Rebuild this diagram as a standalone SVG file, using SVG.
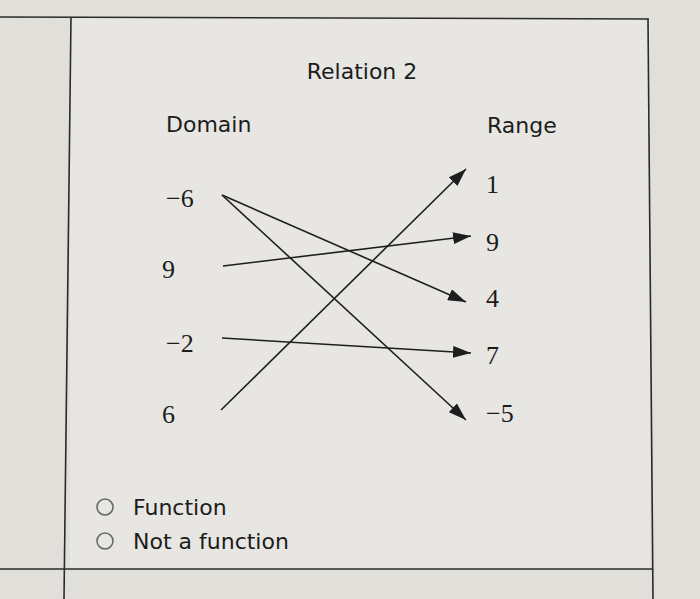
<svg xmlns="http://www.w3.org/2000/svg" width="700" height="599" viewBox="0 0 700 599">
<defs>
<marker id="ah" viewBox="0 0 18 12" refX="18" refY="6" markerWidth="18" markerHeight="12" markerUnits="userSpaceOnUse" orient="auto">
<path d="M0,0 L18,6 L0,12 Z" fill="#1e1e1e"/>
</marker>
</defs>
<style>
.frame{stroke:#2a2a2a;stroke-width:1.6;fill:none}
.sans{font-family:"DejaVu Sans","Noto Sans",sans-serif;font-size:22px;fill:#1c1c1c}
.num{font-family:"Liberation Serif","Times New Roman",serif;font-size:26px;fill:#1c1c1c}
.conn line{stroke:#1e1e1e;stroke-width:1.6;marker-end:url(#ah)}
.radio{fill:none;stroke:#6a6a6a;stroke-width:1.6}
</style>
<rect x="0" y="0" width="700" height="599" fill="#e0dfda"/>
<rect x="70" y="18" width="580" height="551" fill="#e7e6e2"/>
<g id="frame">
<line class="frame" x1="0" y1="17" x2="649" y2="19"/>
<line class="frame" x1="71" y1="17" x2="64" y2="599"/>
<line class="frame" x1="648" y1="19" x2="653" y2="599"/>
<line class="frame" x1="0" y1="569" x2="653" y2="569"/>
</g>
<g id="title"><text class="sans" x="362" y="79" text-anchor="middle">Relation 2</text></g>
<g id="domain-label"><text class="sans" x="166" y="132">Domain</text></g>
<g id="range-label"><text class="sans" x="487" y="133">Range</text></g>
<g id="d-neg6"><text class="num" x="166" y="207">−6</text></g>
<g id="d-9"><text class="num" x="162" y="278">9</text></g>
<g id="d-neg2"><text class="num" x="166" y="352">−2</text></g>
<g id="d-6"><text class="num" x="162" y="423">6</text></g>
<g id="r-1"><text class="num" x="486" y="193">1</text></g>
<g id="r-9"><text class="num" x="486" y="251">9</text></g>
<g id="r-4"><text class="num" x="486" y="307">4</text></g>
<g id="r-7"><text class="num" x="486" y="364">7</text></g>
<g id="r-neg5"><text class="num" x="486" y="422">−5</text></g>
<g id="connectors" class="conn">
<line x1="222" y1="195" x2="466" y2="302"/>
<line x1="222" y1="195" x2="466" y2="420"/>
<line x1="223" y1="266" x2="471" y2="236"/>
<line x1="222" y1="338" x2="471" y2="353"/>
<line x1="221" y1="410" x2="466" y2="169"/>
</g>
<g id="opt-function">
<circle class="radio" cx="105" cy="507" r="8"/>
<text class="sans" x="133" y="515">Function</text>
</g>
<g id="opt-not-function">
<circle class="radio" cx="105" cy="541" r="8"/>
<text class="sans" x="133" y="549">Not a function</text>
</g>
</svg>
